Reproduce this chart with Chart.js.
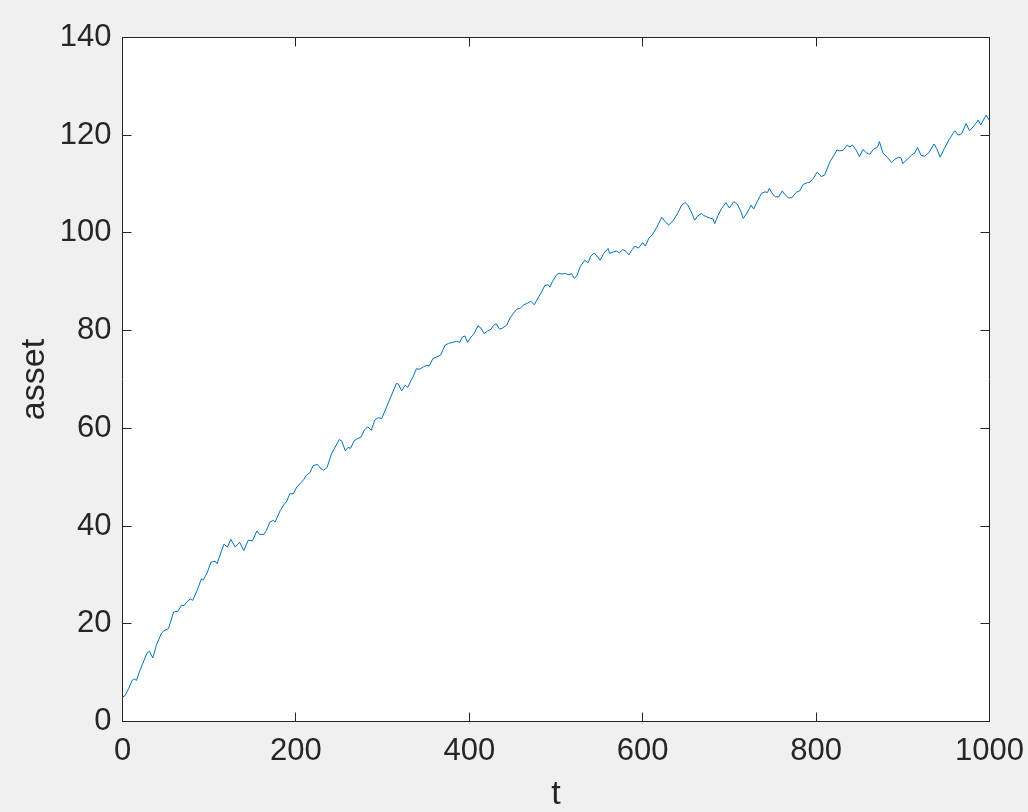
<!DOCTYPE html>
<html>
<head>
<meta charset="utf-8">
<script src="https://cdn.jsdelivr.net/npm/chart.js@4"></script>
<style>
  html, body { margin: 0; padding: 0; background: #f0f0f0; }
  #c { display: block; }
</style>
</head>
<body>
<canvas id="c" width="1028" height="812"></canvas>
<script>
const tValues = [
  0,3,7,11,14,16,20,28,31,35,39,45,48,53,59,64,68,71,74,78,81,86,91,93,98,102,107,109,117,121,125,130,135,140,145,150,155,158,163,
  166,170,174,176,182,187,189,193,197,201,205,209,212,216,220,225,228,232,236,241,250,253,257,260,263,267,271,275,279,283,287,291,295,299,307,316,318,322,326,329,332,
  335,339,343,347,351,354,358,362,367,372,376,381,385,389,392,395,398,402,405,410,413,417,421,425,428,431,435,438,443,447,452,455,459,463,467,471,475,480,483,487,491,493,496,501,
  503,507,511,515,518,521,524,528,533,537,540,544,547,551,555,560,562,566,570,573,577,581,584,588,591,595,600,603,607,611,616,622,626,630,635,640,645,649,652,656,660,663,668,
  670,674,678,681,683,687,691,696,700,705,709,713,716,720,725,728,732,737,741,744,746,750,753,757,761,764,768,772,777,781,785,790,793,797,801,804,806,810,816,822,824,827,831,
  836,839,842,846,850,854,858,862,866,871,873,877,882,887,891,895,898,900,906,910,914,917,921,925,930,936,939,943,948,954,960,964,968,973,977,982,987,990,996,1000
];
const assetValues = [
  5.0,5.3,6.7,8.4,8.7,8.4,10.4,13.9,14.4,13.0,15.6,18.1,18.6,19.0,22.4,22.6,23.8,23.7,24.4,25.1,24.8,26.8,29.2,28.9,30.6,32.6,32.8,32.3,36.3,35.7,37.3,35.7,36.7,35.0,37.1,37.0,39.0,38.3,38.3,
  39.1,40.8,41.2,40.8,43.2,44.6,44.9,46.6,46.6,48.0,48.7,49.5,50.4,50.9,52.4,52.6,51.9,51.4,52.0,54.8,57.7,57.4,55.4,56.1,55.9,57.4,57.9,58.2,59.7,60.3,59.6,61.7,62.2,62.0,65.4,69.2,69.1,67.7,68.8,68.4,69.5,
  70.5,72.2,72.1,72.6,72.9,72.8,74.3,74.6,75.0,77.0,77.4,77.6,77.8,77.6,78.7,78.9,77.6,78.7,79.2,81.0,80.6,79.4,79.9,80.3,81.1,81.4,80.3,80.5,81.1,82.6,83.8,84.4,84.6,85.3,85.6,86.0,85.3,86.9,87.8,89.2,89.4,88.9,90.1,91.5,
  91.7,91.6,91.7,91.4,91.7,90.7,91.2,93.1,94.4,93.9,95.2,95.9,95.3,94.4,95.8,96.8,95.8,96.1,96.3,95.9,96.6,96.2,95.5,96.6,97.3,96.9,98.0,97.3,98.9,99.6,101.1,103.2,102.3,101.6,102.5,103.9,105.7,106.2,105.7,104.3,102.6,103.4,104.0,
  103.6,103.3,103.0,102.9,101.9,103.6,105.0,106.2,105.1,106.4,105.9,104.5,103.0,104.0,105.7,104.9,106.4,108.1,108.4,108.3,109.1,107.9,107.4,107.4,108.6,107.9,107.2,107.2,108.3,108.6,109.9,110.3,110.4,111.2,112.4,112.0,111.5,111.9,114.6,116.3,117.0,116.8,116.9,
  118.0,117.6,118.0,117.0,115.6,117.1,116.4,116.1,117.1,117.6,118.7,116.4,115.5,114.4,115.1,115.5,115.3,114.2,115.2,115.9,116.4,117.5,115.9,115.7,116.4,118.2,117.3,115.5,117.3,119.3,120.9,120.0,120.3,122.4,120.9,121.9,123.1,122.1,124.1,123.0
];
const xTicks = [0, 200, 400, 600, 800, 1000];
const yTicks = [0, 20, 40, 60, 80, 100, 120, 140];

const FONT = '"Liberation Sans", Arial, Helvetica, sans-serif';
const TEXT = '#262626';

const points = tValues.map((t, i) => ({ x: t, y: assetValues[i] }));

const framePlugin = {
  id: 'frame',
  beforeDraw(chart) {
    const { ctx, chartArea: a } = chart;
    ctx.save();
    ctx.fillStyle = '#ffffff';
    ctx.fillRect(a.left, a.top, a.right - a.left, a.bottom - a.top);
    ctx.restore();
  },
  afterDraw(chart) {
    const { ctx, chartArea: a, scales } = chart;
    const tl = 9;
    ctx.save();
    ctx.strokeStyle = TEXT;
    ctx.lineWidth = 1;
    ctx.beginPath();
    ctx.rect(a.left, a.top, a.right - a.left, a.bottom - a.top);
    ctx.stroke();
    ctx.beginPath();
    xTicks.forEach(v => {
      const px = Math.round(scales.x.getPixelForValue(v) - 0.5) + 0.5;
      ctx.moveTo(px, a.bottom); ctx.lineTo(px, a.bottom - tl);
      ctx.moveTo(px, a.top); ctx.lineTo(px, a.top + tl);
    });
    yTicks.forEach(v => {
      const py = Math.round(scales.y.getPixelForValue(v) - 0.5) + 0.5;
      ctx.moveTo(a.left, py); ctx.lineTo(a.left + tl, py);
      ctx.moveTo(a.right, py); ctx.lineTo(a.right - tl, py);
    });
    ctx.stroke();
    ctx.restore();
  }
};

new Chart(document.getElementById('c'), {
  type: 'line',
  data: {
    datasets: [{
      data: points,
      borderColor: '#0072BD',
      borderWidth: 1,
      pointRadius: 0,
      tension: 0,
      fill: false
    }]
  },
  options: {
    responsive: false,
    animation: false,
    events: [],
    layout: { padding: { left: 18, top: 37.5, right: 38.5, bottom: 0 } },
    plugins: { legend: { display: false }, tooltip: { enabled: false } },
    scales: {
      x: {
        type: 'linear',
        min: 0, max: 1000,
        afterBuildTicks: s => { s.ticks = xTicks.map(v => ({ value: v })); },
        afterFit: s => { s.height = 90.5; s.paddingLeft = 0; s.paddingRight = 0; },
        grid: { display: false, drawTicks: false, tickLength: 0 },
        border: { display: false },
        ticks: { padding: 11, color: TEXT, font: { family: FONT, size: 31 }, maxRotation: 0, autoSkip: false, callback: v => String(v) },
        title: { display: true, text: 't', color: TEXT, padding: 0, font: { family: FONT, size: 34, lineHeight: 1 } }
      },
      y: {
        type: 'linear',
        min: 0, max: 140,
        afterBuildTicks: s => { s.ticks = yTicks.map(v => ({ value: v })); },
        afterFit: s => { s.width = 104.5; s.paddingTop = 0; s.paddingBottom = 0; },
        grid: { display: false, drawTicks: false, tickLength: 0 },
        border: { display: false },
        ticks: { padding: 11, color: TEXT, font: { family: FONT, size: 31 }, autoSkip: false, callback: v => String(v) },
        title: { display: true, text: 'asset', color: TEXT, padding: 0, font: { family: FONT, size: 34, lineHeight: 1 } }
      }
    }
  },
  plugins: [framePlugin]
});
</script>
</body>
</html>
